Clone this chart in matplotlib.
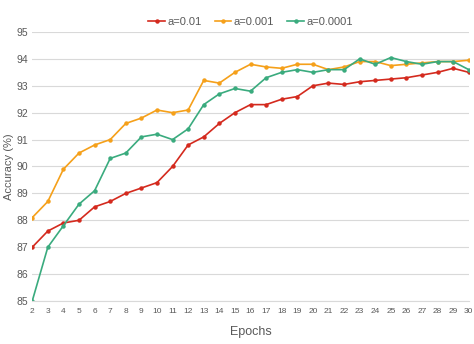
import matplotlib
matplotlib.use("Agg")
import matplotlib.pyplot as plt

plt.rcParams['font.family'] = ['Liberation Sans', 'DejaVu Sans']

# Données
epochs = list(range(2, 31))
acc_001 = [87.0, 87.6, 87.9, 88.0, 88.5, 88.7, 89.0, 89.2, 89.4, 90.0,
           90.8, 91.1, 91.6, 92.0, 92.3, 92.3, 92.5, 92.6, 93.0, 93.1,
           93.05, 93.15, 93.2, 93.25, 93.3, 93.4, 93.5, 93.65, 93.5]
acc_0001 = [88.1, 88.7, 89.9, 90.5, 90.8, 91.0, 91.6, 91.8, 92.1, 92.0,
            92.1, 93.2, 93.1, 93.5, 93.8, 93.7, 93.65, 93.8, 93.8, 93.6,
            93.7, 93.9, 93.9, 93.75, 93.8, 93.85, 93.9, 93.9, 93.95]
acc_00001 = [85.0, 87.0, 87.8, 88.6, 89.1, 90.3, 90.5, 91.1, 91.2, 91.0,
             91.4, 92.3, 92.7, 92.9, 92.8, 93.3, 93.5, 93.6, 93.5, 93.6,
             93.6, 94.0, 93.8, 94.05, 93.9, 93.8, 93.9, 93.9, 93.6]
labels = ["a=0.01", "a=0.001", "a=0.0001"]
colors = ["#d42a1e", "#f5a01a", "#3aab7e"]

fig = plt.figure(figsize=(4.74, 3.44), dpi=100)
ax = fig.add_axes([0.068, 0.125, 0.921, 0.782])

for vals, lab, col in zip([acc_001, acc_0001, acc_00001], labels, colors):
    ax.plot(epochs, vals, color=col, lw=1.2, marker="o", ms=2.2, label=lab)

ax.set_xlim(2, 30)
ax.set_ylim(85, 95)
ax.set_xticks(epochs)
ax.set_yticks(range(85, 96))
ax.grid(axis="y", color="#d9d9d9", lw=0.8)
ax.set_axisbelow(True)
for s in ["top", "right", "left"]:
    ax.spines[s].set_visible(False)
ax.spines["bottom"].set_color("#d9d9d9")
ax.tick_params(axis="both", length=0, colors="#595959")
ax.tick_params(axis="x", labelsize=6, pad=5)
ax.tick_params(axis="y", labelsize=7.5, pad=3)

ax.set_xlabel("Epochs", fontsize=9, color="#595959", labelpad=8)
ax.set_ylabel("Accuracy (%)", fontsize=8, color="#595959", labelpad=2)

ax.legend(loc="lower center", bbox_to_anchor=(0.5, 0.995), ncol=3, frameon=False,
          fontsize=8, handlelength=1.5, handletextpad=0.2, columnspacing=1.2,
          labelcolor="#595959", borderaxespad=0.2)

fig.savefig("out.png", dpi=100)
